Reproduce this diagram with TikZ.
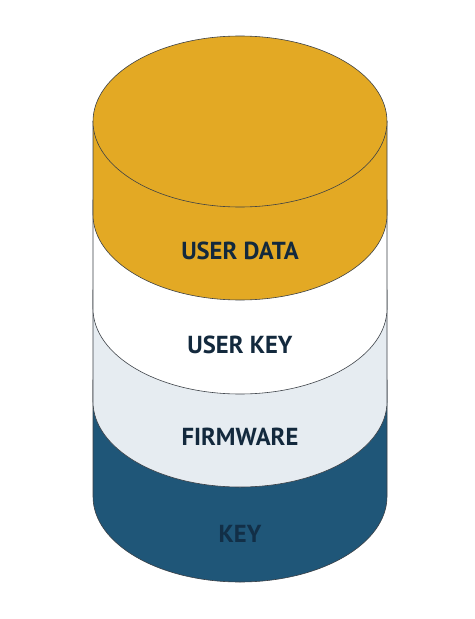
\documentclass[tikz,border=0pt]{standalone}
\usepackage{fontspec}
\setmainfont{PT Sans}
\usetikzlibrary{positioning}
\definecolor{gold}{HTML}{E3A924}
\definecolor{paper}{HTML}{FFFFFF}
\definecolor{mist}{HTML}{E6ECF1}
\definecolor{deep}{HTML}{1F5678}
\definecolor{ink}{HTML}{13293D}
\definecolor{inkdeep}{HTML}{122F47}
\definecolor{rim}{HTML}{3A3F45}

\tikzset{
  layer/.style={draw=rim, line width=0.5pt},
  tag/.style={font=\fontsize{21}{25}\selectfont\bfseries, text=ink}
}

\begin{document}
\begin{tikzpicture}[x=0.03cm, y=-0.03cm]
  \useasboundingbox (0,0) rectangle (474,619);
  % layers, bottom first
  \draw[layer, fill=deep] (93,380) -- (93,496.5) arc[start angle=180, end angle=360, x radius=147, y radius=-85.5] -- (387,380) -- cycle;
  \draw[layer, fill=mist] (93,290) -- (93,401.5) arc[start angle=180, end angle=360, x radius=147, y radius=-85.5] -- (387,290) -- cycle;
  \draw[layer, fill=paper] (93,200) -- (93,308.5) arc[start angle=180, end angle=360, x radius=147, y radius=-85.5] -- (387,200) -- cycle;
  \draw[layer, fill=gold] (93,121.5) -- (93,214.5) arc[start angle=180, end angle=360, x radius=147, y radius=-85.5] -- (387,121.5) -- cycle;
  % lid
  \draw[layer, fill=gold] (240,121.5) ellipse[x radius=147, y radius=85.5];

  \node[tag] (userdata) at (240,251) {USER DATA};
  \node[tag] (userkey) at (240,345) {USER KEY};
  \node[tag] (firmware) at (240,437) {FIRMWARE};
  \node[tag, text=inkdeep] (key) at (240,534) {KEY};
\end{tikzpicture}
\end{document}
